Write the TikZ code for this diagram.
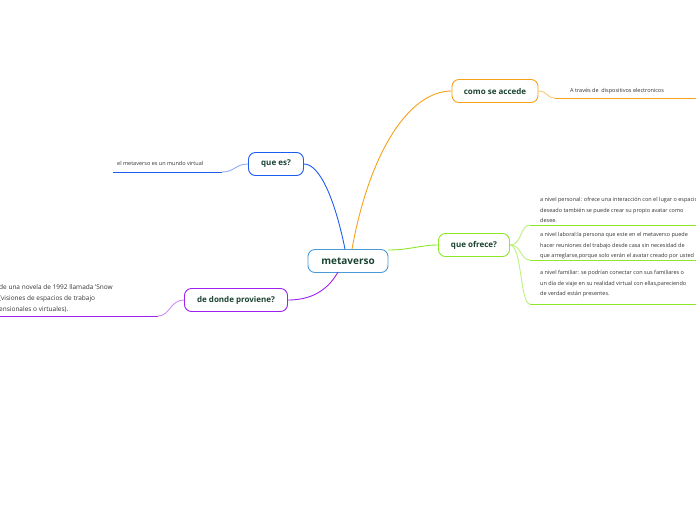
\documentclass[tikz,border=0pt]{standalone}
\usepackage{fontspec}
\setmainfont{Open Sans}
\begin{document}
\begin{tikzpicture}[x=1pt,y=-1pt,
topic/.style={draw,line width=0.9pt,rounded corners=7pt,minimum height=23pt,font=\bfseries\fontsize{8}{9}\selectfont,text=txt,fill=white},
leaf/.style={anchor=west,align=left,font=\fontsize{5.5}{10.5}\selectfont,text=black!80,inner sep=0pt},
con/.style={line width=0.9pt}]
\definecolor{txt}{HTML}{1B4332}
\definecolor{cblue}{HTML}{1D5CF0}
\definecolor{corange}{HTML}{F7A11A}
\definecolor{cgreen}{HTML}{8EE82A}
\definecolor{cpurple}{HTML}{A020F0}
\definecolor{cmain}{HTML}{4A9AD8}
\useasboundingbox (0,0) rectangle (696,520);
\clip (0,0) rectangle (696,520);
\node[topic,draw=cmain,minimum width=80pt,font=\bfseries\fontsize{10}{11}\selectfont] (m) at (348,261) {metaverso};
\node[topic,draw=corange,minimum width=86pt] (a) at (495,91) {como se accede};
\node[topic,draw=cblue,minimum width=55pt] (q) at (276,164) {que es?};
\node[topic,draw=cgreen,minimum width=71pt] (o) at (474,245) {que ofrece?};
\node[topic,draw=cpurple,minimum width=103pt] (d) at (236,300) {de donde proviene?};
\draw[con,corange] (352,249) .. controls (370,150) and (410,91) .. (a.west);
\draw[con,cblue] (345,249) .. controls (335,200) and (320,164) .. (q.east);
\draw[con,cgreen] (388,250) .. controls (410,250) and (420,245) .. (o.west);
\draw[con,cpurple] (338,272) .. controls (325,295) and (305,300) .. (d.east);
\node[leaf] (a1) at (570,91) {A través de \ dispositivos electronicos};
\coordinate (a1s) at (555,98);
\draw[con,corange!60] (a.east) .. controls (547,91) and (547,98) .. (a1s);
\draw[con,corange] (a1s) -- (696,98);
\node[leaf] (q1) at (117,163) {el metaverso es un mundo virtual};
\coordinate (q1s) at (222,172);
\draw[con,cblue!50] (q.west) .. controls (235,164) and (235,172) .. (q1s);
\draw[con,cblue] (q1s) -- (113,172);
\node[leaf] (o1) at (540,210) {a nivel personal: ofrece una interacción con el lugar o espacio\\deseado también se puede crear su propio avatar como\\desee.};
\node[leaf] (o2) at (540,246) {a nivel laboral:la persona que este en el metaverso puede\\hacer reuniones del trabajo desde casa sin necesidad de\\que arreglarse,porque solo verán el avatar creado por usted};
\node[leaf] (o3) at (540,284) {a nivel familiar: se podrían conectar con sus familiares o\\un día de viaje en su realidad virtual con ellas,pareciendo\\de verdad están presentes.};
\coordinate (o1s) at (530,225); \coordinate (o2s) at (530,260); \coordinate (o3s) at (530,304);
\foreach \c in {o1s,o2s,o3s}{
  \draw[con,cgreen!60] (o.east) .. controls (522,245) and (520,0|-\c) .. (\c);
  \draw[con,cgreen] (\c) -- ++(170,0);
}
\node[leaf,font=\fontsize{6.5}{11}\selectfont] (d1) at (-1,299) {de una novela de 1992 llamada 'Snow\\(visiones de espacios de trabajo\\ensionales o virtuales).};
\coordinate (d1s) at (158,316);
\draw[con,cpurple!50] (d.west) .. controls (170,300) and (170,316) .. (d1s);
\draw[con,cpurple] (d1s) -- (0,316);
\end{tikzpicture}
\end{document}
